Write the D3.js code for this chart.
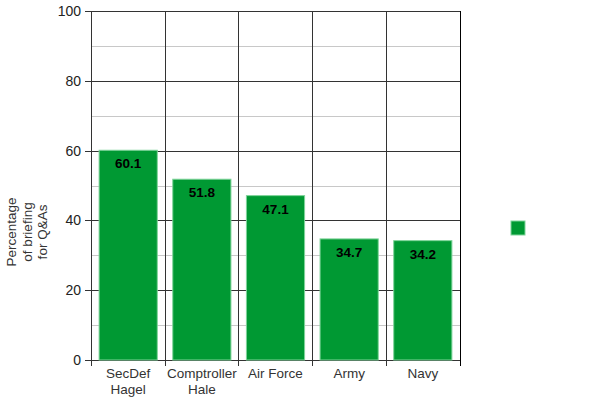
<!DOCTYPE html>
<html>
<head>
<meta charset="utf-8">
<script src="https://cdn.jsdelivr.net/npm/d3@7"></script>
<style>
  body { margin: 0; background: #fff; }
  text { font-family: "Liberation Sans", Arial, sans-serif; }
</style>
</head>
<body>
<script>
// chart data
let categories = [["SecDef", "Hagel"], ["Comptroller", "Hale"], ["Air Force"], ["Army"], ["Navy"]];
let values = [60.1, 51.8, 47.1, 34.7, 34.2];
let yTicks = [0, 20, 40, 60, 80, 100];
let yMinor = [10, 30, 50, 70, 90];
let yTitle = ["Percentage", "of briefing", "for Q&As"];

let margin = { top: 11, left: 91, right: 131, bottom: 39 },
  width = 591 - margin.left - margin.right,
  height = 399 - margin.top - margin.bottom;

let svg = d3.select("body").append("svg")
  .attr("width", 591)
  .attr("height", 399);

let g = svg.append("g")
  .attr("transform", "translate(" + margin.left + "," + margin.top + ")");

let names = categories.map(function(d) { return d.join(" "); });

let x = d3.scaleBand()
  .domain(names)
  .range([0, width])
  .paddingInner(0.21)
  .paddingOuter(0.11);

let y = d3.scaleLinear()
  .domain([0, 100])
  .range([height, 0]);

// minor grid
g.selectAll(".minor").data(yMinor).enter().append("line")
  .attr("x1", 0).attr("x2", width)
  .attr("y1", function(d) { return Math.round(y(d)) + 0.5; })
  .attr("y2", function(d) { return Math.round(y(d)) + 0.5; })
  .attr("stroke", "#c8c8c8");

// major grid (with ticks sticking out left)
g.selectAll(".major").data(yTicks).enter().append("line")
  .attr("x1", -6).attr("x2", width)
  .attr("y1", function(d) { return Math.round(y(d)) + 0.5; })
  .attr("y2", function(d) { return Math.round(y(d)) + 0.5; })
  .attr("stroke", "#333");

// vertical lines at category boundaries
let step = x.step();
let bounds = d3.range(names.length + 1).map(function(i) {
  return i === names.length ? width : x(names[i]) - x.paddingOuter() * step;
});
g.selectAll(".vline").data(bounds).enter().append("line")
  .attr("x1", function(d) { return Math.round(d) + 0.5; })
  .attr("x2", function(d) { return Math.round(d) + 0.5; })
  .attr("y1", 0).attr("y2", height + 6)
  .attr("stroke", function(d, i) { return i === names.length ? "#000" : "#333"; });

// bars
g.selectAll(".bar").data(values).enter().append("rect")
  .attr("x", function(d, i) { return x(names[i]); })
  .attr("y", function(d) { return y(d); })
  .attr("width", x.bandwidth())
  .attr("height", function(d) { return height - y(d); })
  .attr("fill", "#009933")
  .attr("stroke", "#7fd49a")
  .attr("stroke-width", 1);

// value labels
g.selectAll(".val").data(values).enter().append("text")
  .attr("x", function(d, i) { return x(names[i]) + x.bandwidth() / 2; })
  .attr("y", function(d) { return y(d) + 18; })
  .attr("text-anchor", "middle")
  .attr("font-size", 13.5)
  .attr("font-weight", "bold")
  .attr("fill", "#000")
  .text(function(d) { return d.toFixed(1); });

// y tick labels
g.selectAll(".ylab").data(yTicks).enter().append("text")
  .attr("x", -10)
  .attr("y", function(d) { return y(d); })
  .attr("dy", "0.36em")
  .attr("text-anchor", "end")
  .attr("font-size", 14)
  .attr("fill", "#222")
  .text(function(d) { return d; });

// x labels
categories.forEach(function(lines, i) {
  let t = g.append("text")
    .attr("x", x(names[i]) + x.bandwidth() / 2)
    .attr("y", height + 18)
    .attr("text-anchor", "middle")
    .attr("font-size", 13.5)
    .attr("fill", "#333");
  lines.forEach(function(l, j) {
    t.append("tspan")
      .attr("x", x(names[i]) + x.bandwidth() / 2)
      .attr("dy", j === 0 ? 0 : 16)
      .text(l);
  });
});

// y title
let yt = svg.append("text")
  .attr("transform", "translate(16,232) rotate(-90)")
  .attr("text-anchor", "middle")
  .attr("font-size", 13.5)
  .attr("fill", "#333");
yTitle.forEach(function(l, j) {
  yt.append("tspan").attr("x", 0).attr("dy", j === 0 ? 0 : 15.5).text(l);
});

// legend swatch
svg.append("rect")
  .attr("x", 511).attr("y", 221)
  .attr("width", 14).attr("height", 14)
  .attr("fill", "#009933")
  .attr("stroke", "#7fd49a");
</script>
</body>
</html>
